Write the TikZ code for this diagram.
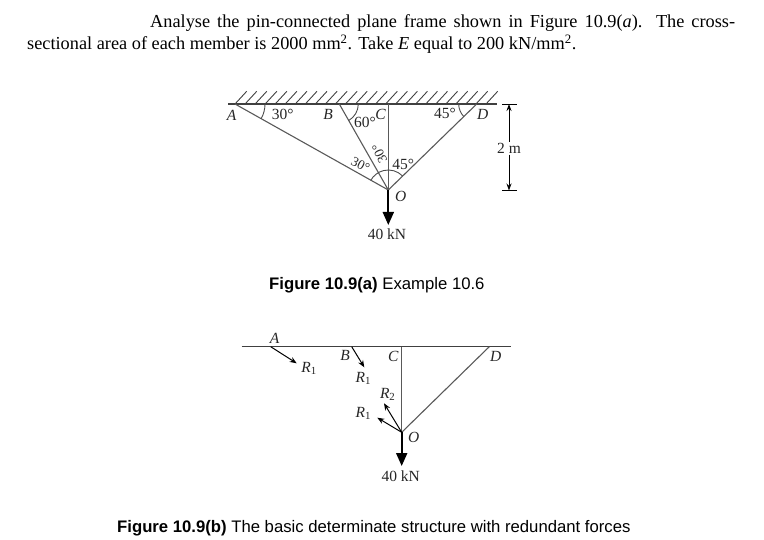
\documentclass[tikz,border=0pt]{standalone}
\usepackage{fontspec}
\setmainfont{Liberation Serif}
\newfontfamily\capfont{Liberation Sans}
\usetikzlibrary{angles, calc, arrows.meta}
\tikzset{
    lab/.style={font=\fontsize{15.5}{17}\selectfont, inner sep=0pt, text=black!85},
    smalllab/.style={font=\fontsize{13.5}{15}\selectfont, inner sep=0pt, text=black!85},
    member/.style={draw=black!65, line width=1.1pt},
    wall/.style={draw=black!75, line width=1.1pt},
    load/.style={line width=2pt, -{Triangle[length=13pt, width=11pt]}},
    redund/.style={line width=1pt, -{Stealth[length=7pt, width=5.5pt]}},
    dimline/.style={line width=.9pt, -{Stealth[length=7pt, width=5pt]}},
    ang/.style={draw=black!70, line width=.9pt},
    caption/.style={font=\capfont\fontsize{16.7}{18}\selectfont, inner sep=0pt, anchor=west}
}
\begin{document}
\begin{tikzpicture}[x=1pt, y=-1pt]
            \useasboundingbox (0,0) rectangle (764,540);
            \node (para) at (27,34) [anchor=west, inner sep=0pt, text width=708pt, align=justify, font=\fontsize{18.3}{22}\selectfont] {\hspace*{123pt}Analyse the pin-connected plane frame shown in Figure 10.9(\textit{a}). The cross-\linebreak sectional area of each member is 2000 mm\textsuperscript{2}. Take \textit{E} equal to 200 kN/mm\textsuperscript{2}.};
            % upper frame
            \coordinate (wallL) at (228,104);
            \coordinate (wallR) at (497,104);
            \coordinate (A) at (235,104);
            \coordinate (B) at (339.3,104);
            \coordinate (C) at (388.3,104);
            \coordinate (D) at (476.7,104);
            \coordinate (O) at (388.3,190);
            \coordinate (F) at (388.3,225);
            \draw[wall] (wallL) -- (wallR);
            \foreach \i in {0,...,25}
                \draw[wall, line width=.9pt] ($(A)+(\i*10.04,0)$) -- ++(11.7,-12.7);
            \draw[member] (A) -- (O);
            \draw[member] (B) -- (O);
            \draw[member] (C) -- (O);
            \draw[member] (D) -- (O);
            \draw[load] (O) -- (F);
            \pic [ang, angle radius=30pt] {angle = O--A--C};
            \pic [ang, angle radius=19pt] {angle = O--B--C};
            \pic [ang, angle radius=18pt] {angle = C--D--O};
            \pic [ang, angle radius=20pt] {angle = D--O--A};
            \node (lA) at (231.7,115) [lab] {\textit{A}};
            \node (lB) at (328,114) [lab] {\textit{B}};
            \node (lC) at (380.7,114.3) [lab] {\textit{C}};
            \node (lD) at (482.7,114.3) [lab] {\textit{D}};
            \node (lO) at (400.7,196) [lab] {\textit{O}};
            \node (a30) at (282.7,114.3) [lab] {30°};
            \node (a60) at (365,122.3) [lab] {60°};
            \node (a45) at (445,113.3) [lab] {45°};
            \node (b30) at (360.5,164.5) [smalllab, rotate=-27] {30°};
            \node (c30) at (379.5,153.5) [smalllab, rotate=115] {30°};
            \node (b45) at (403.3,164.3) [lab] {45°};
            \node (fa) at (387,234) [lab, anchor=center] {40 kN};
            % height dimension
            \coordinate (dimT) at (509,104);
            \coordinate (dimB) at (509,190.5);
            \coordinate (dimTa) at (502,104);
            \coordinate (dimTb) at (517,104);
            \coordinate (dimBa) at (502,190.5);
            \coordinate (dimBb) at (517,190.5);
            \draw[line width=.9pt] (dimTa) -- (dimTb);
            \draw[line width=.9pt] (dimBa) -- (dimBb);
            \node (dimlab) at (509,148.3) [lab, fill=white, inner ysep=1pt] {2 m};
            \draw[dimline] (dimlab) -- (dimT);
            \draw[dimline] (dimlab) -- (dimB);
            \node (capa) at (269,285) [caption] {\textbf{Figure 10.9(a)} Example 10.6};
            % lower frame
            \coordinate (wallL2) at (241.7,346.7);
            \coordinate (wallR2) at (511,346.7);
            \coordinate (A2) at (270.7,346.7);
            \coordinate (B2) at (351.7,346.7);
            \coordinate (C2) at (401.7,346.7);
            \coordinate (D2) at (489.3,346.7);
            \coordinate (O2) at (401.7,432.3);
            \coordinate (F2) at (401.7,466);
            \coordinate (Ra) at (296.7,363.3);
            \coordinate (Rb) at (364.3,367.3);
            \coordinate (Rc) at (384,403.3);
            \coordinate (Rd) at (377.3,417.7);
            \draw[wall] (wallL2) -- (wallR2);
            \draw[member] (C2) -- (O2);
            \draw[member] (D2) -- (O2);
            \draw[redund] (A2) -- (Ra);
            \draw[redund] (B2) -- (Rb);
            \draw[redund] (O2) -- (Rc);
            \draw[redund] (O2) -- (Rd);
            \draw[load] (O2) -- (F2);
            \node (lA2) at (274.7,338.3) [lab] {\textit{A}};
            \node (lB2) at (345,355) [lab] {\textit{B}};
            \node (lC2) at (393.3,356) [lab] {\textit{C}};
            \node (lD2) at (495.7,356) [lab] {\textit{D}};
            \node (lO2) at (413.7,437.7) [lab] {\textit{O}};
            \node (r1a) at (309,368.3) [lab] {\textit{R}\textsubscript{1}};
            \node (r1b) at (363.3,378.3) [lab] {\textit{R}\textsubscript{1}};
            \node (r2) at (387.7,394.3) [lab] {\textit{R}\textsubscript{2}};
            \node (r1c) at (363.3,413.3) [lab] {\textit{R}\textsubscript{1}};
            \node (fb) at (400.7,476) [lab] {40 kN};
            \node (capb) at (117,528) [caption] {\textbf{Figure 10.9(b)} The basic determinate structure with redundant forces};
        \end{tikzpicture}
\end{document}
